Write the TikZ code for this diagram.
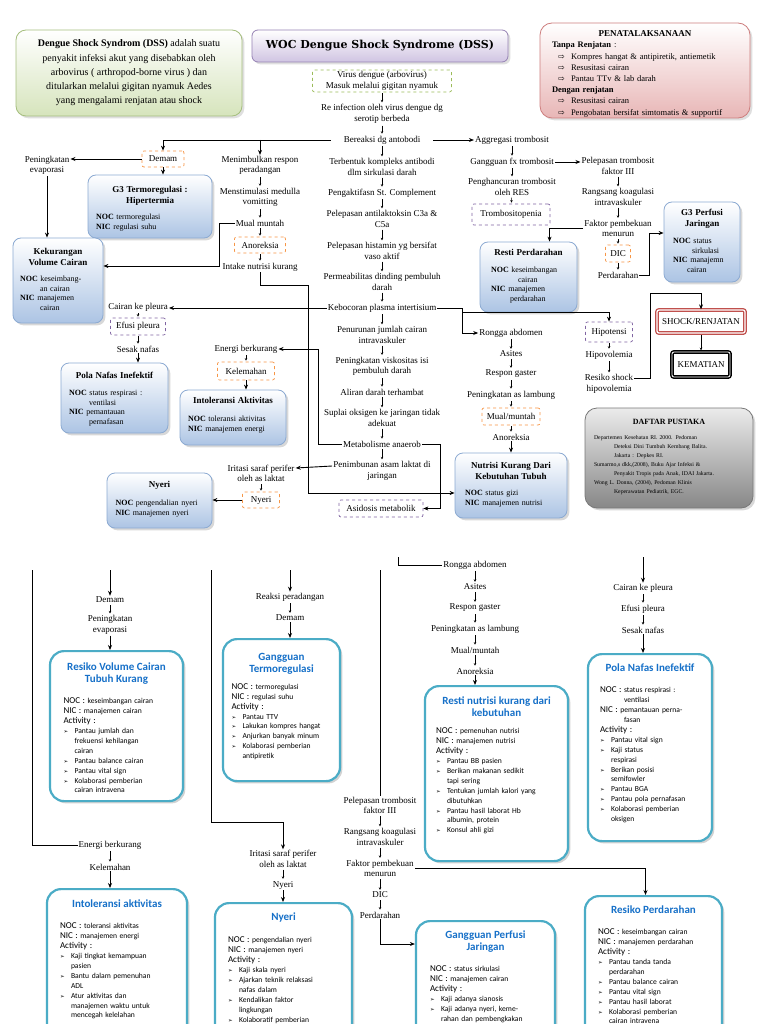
\documentclass[tikz,border=0pt]{standalone}
\usepackage{fontspec}
\setmainfont{Liberation Serif}
\newfontfamily\sansf{Carlito}
\newfontfamily\symf{DejaVu Sans}
\newfontfamily\titf{DejaVu Serif}
\usepackage{xcolor}
\usepackage{tikz}
\usetikzlibrary{arrows.meta, positioning, calc, shapes, shadows}
\setlength{\parindent}{0pt}

\definecolor{defline}{RGB}{165,190,125}
\definecolor{deffill}{RGB}{214,228,188}
\definecolor{titline}{RGB}{150,130,180}
\definecolor{titfill}{RGB}{208,196,226}
\definecolor{ptlline}{RGB}{205,125,125}
\definecolor{ptlfill}{RGB}{232,182,182}
\definecolor{dxline}{RGB}{140,170,210}
\definecolor{dxfill}{RGB}{172,196,228}
\definecolor{bxline}{RGB}{75,172,198}
\definecolor{ttlblue}{RGB}{22,112,200}
\definecolor{dorange}{RGB}{247,150,70}
\definecolor{dpurple}{RGB}{128,100,162}
\definecolor{dolive}{RGB}{155,187,89}
\definecolor{shkred}{RGB}{192,80,77}
\definecolor{dafline}{RGB}{120,120,120}
\definecolor{daftop}{RGB}{235,235,235}
\definecolor{dafbot}{RGB}{135,135,135}

\newcommand{\penbul}{\hspace*{6pt}\makebox[13pt][l]{\symf\fontsize{8}{11.2}\selectfont ⇨}}
\newcommand{\arrbul}{\makebox[11pt][l]{\symf\fontsize{5.5}{9.9}\selectfont ➢}}
\newcommand{\nocl}[1]{{\fontsize{9}{9.9}\selectfont #1}}
\newcommand{\dxttl}{\centering\fontsize{9}{11}\selectfont\bfseries}
\newcommand{\bxttl}{\centering\fontsize{11}{12}\selectfont\bfseries\color{ttlblue}}

\begin{document}
\begin{tikzpicture}[
    x=1pt, y=-1pt,
    >=Stealth,
    font=\fontsize{9}{10.5}\selectfont,
    txt/.style={align=center, inner sep=1pt},
    dbox/.style={draw=#1, dashed, line width=0.7pt, rounded corners=2pt, align=center, inner sep=1pt},
    defbox/.style={draw=defline, line width=0.8pt, rounded corners=10pt, top color=white, bottom color=deffill, drop shadow={opacity=0.25}},
    titbox/.style={draw=titline, line width=0.8pt, rounded corners=6pt, top color=white, bottom color=titfill, drop shadow={opacity=0.25}},
    ptlbox/.style={draw=ptlline, line width=0.8pt, rounded corners=12pt, top color=white, bottom color=ptlfill, drop shadow={opacity=0.25}},
    dafbox/.style={draw=dafline, line width=0.8pt, rounded corners=12pt, top color=daftop, bottom color=dafbot, drop shadow={opacity=0.3}},
    dx/.style={draw=dxline, line width=0.8pt, rounded corners=8pt, top color=white, bottom color=dxfill, drop shadow={opacity=0.3}},
    dxtext/.style={anchor=north, inner sep=0pt, font=\fontsize{8}{9.5}\selectfont},
    bx/.style={draw=bxline, line width=2.2pt, rounded corners=14pt, fill=white, drop shadow={opacity=0.35}},
    bxtext/.style={anchor=north, inner sep=0pt, font=\sansf\fontsize{7.6}{9.9}\selectfont},
    shkbox/.style={draw=shkred, line width=1.3pt, double=white, double distance=1.2pt, rounded corners=2pt},
    kembox/.style={draw=black, line width=1.5pt, double=white, double distance=0.8pt, rounded corners=2pt},
    ln/.style={line width=0.9pt},
    arr/.style={line width=0.9pt, -{Stealth[length=5pt, width=4pt]}},
    chn/.style={line width=0.5pt, -{Stealth[length=2.5pt, width=2.5pt]}, shorten <=1pt, shorten >=1pt}
]
    \fill[white] (0,0) rectangle (768,1024);
    \useasboundingbox (0,0) rectangle (768,1024);

    % --- Header ---
    \node[defbox, minimum width=226pt, minimum height=86pt, align=center, font=\fontsize{10}{14.2}\selectfont] (def) at (129,73) {
        \textbf{Dengue Shock Syndrom (DSS)} adalah suatu\\
        penyakit infeksi akut yang disebabkan oleh\\
        arbovirus ( arthropod-borne virus ) dan\\
        ditularkan melalui gigitan nyamuk Aedes\\
        yang mengalami renjatan atau shock};
    \node[titbox, minimum width=256pt, minimum height=32pt, font=\titf\bfseries\fontsize{11}{13}\selectfont] (ttl) at (380,46) {WOC Dengue Shock Syndrome (DSS)};
    \node[ptlbox, minimum width=210pt, minimum height=95pt] (ptl) at (645,70.5) {};
    \node[anchor=north, inner sep=0pt, text width=186pt, font=\fontsize{8.5}{11.2}\selectfont] (ptlT) at ([yshift=-8pt]ptl.north) {
        {\centering\fontsize{9}{11.2}\selectfont\bfseries PENATALAKSANAAN\par}
        \textbf{Tanpa Renjatan} :\\
        \penbul Kompres hangat \& antipiretik, antiemetik\\
        \penbul Resusitasi cairan\\
        \penbul Pantau TTv \& lab darah\\
        \textbf{Dengan renjatan}\\
        \penbul Resusitasi cairan\\
        \penbul Pengobatan bersifat simtomatis \& supportif};

    % --- Main chain ---
    \node[dbox=dolive, minimum width=139pt, minimum height=22pt] (vir) at (382,81) {Virus dengue (arbovirus)\\Masuk melalui gigitan nyamuk};
    \node[txt] (rei) at (382,114) {Re infection oleh virus dengue dg\\serotip berbeda};
    \node[txt] (ber) at (382,140) {Bereaksi dg antobodi};
    \node[txt] (ter) at (382,167) {Terbentuk kompleks antibodi\\dlm sirkulasi darah};
    \node[txt] (pac) at (382,193) {Pengaktifasn St. Complement};
    \node[txt] (c3a) at (382,219) {Pelepasan antilaktoksin C3a \&\\C5a};
    \node[txt] (his) at (382,251) {Pelepasan histamin yg bersifat\\vaso aktif};
    \node[txt] (pdp) at (382,282) {Permeabilitas dinding pembuluh\\darah};
    \node[txt] (keb) at (382,308) {Kebocoran plasma intertisium};
    \node[txt] (pjc) at (382,335) {Penurunan jumlah cairan\\intravaskuler};
    \node[txt] (pvi) at (382,366.5) {Peningkatan viskositas isi\\pembuluh darah};
    \node[txt] (adt) at (382,392) {Aliran darah terhambat};
    \node[txt] (sok) at (382,418) {Suplai oksigen ke jaringan tidak\\adekuat};
    \node[txt] (man) at (382,444) {Metabolisme anaerob};
    \node[txt] (pal) at (382,471) {Penimbunan asam laktat di\\jaringan};
    \node[dbox=dpurple, minimum width=84pt, minimum height=17pt] (asi) at (381,508.5) {Asidosis metabolik};

    % --- Respon peradangan ---
    \node[txt] (mrp) at (260,165.5) {Menimbulkan respon\\peradangan};
    \node[txt] (msm) at (260,197.5) {Menstimulasi medulla\\vomitting};
    \node[txt] (mmu) at (260,223) {Mual muntah};
    \node[dbox=dorange, minimum width=51pt, minimum height=16pt] (ano) at (260,245) {Anoreksia};
    \node[txt] (inr) at (260,267) {Intake nutrisi kurang};

    % --- Left side ---
    \node[dbox=dorange, minimum width=42pt, minimum height=16pt] (dem) at (163,159) {Demam};
    \node[txt] (pev) at (47,165.5) {Peningkatan\\evaporasi};
    \node[txt] (cpl) at (138,307) {Cairan ke pleura};
    \node[dbox=dpurple, minimum width=55pt, minimum height=17pt] (efu) at (138,326.5) {Efusi pleura};
    \node[txt] (ses) at (138,349) {Sesak nafas};
    \node[txt] (enb) at (246,349) {Energi berkurang};
    \node[dbox=dorange, minimum width=57pt, minimum height=18pt] (kel) at (246,371) {Kelemahan};
    \node[txt] (isp) at (261,473.5) {Iritasi saraf perifer\\oleh as laktat};
    \node[dbox=dorange, minimum width=37pt, minimum height=16pt] (nye) at (261,500) {Nyeri};

    % --- Right side ---
    \node[txt] (agt) at (512,140) {Aggregasi trombosit};
    \node[txt] (gft) at (512,162) {Gangguan fx trombosit};
    \node[txt] (phr) at (512,187) {Penghancuran trombosit\\oleh RES};
    \node[dbox=dpurple, minimum width=78pt, minimum height=21pt] (trp) at (511,214.5) {Trombositopenia};
    \node[txt] (ptf) at (618,166) {Pelepasan trombosit\\faktor III};
    \node[txt] (rki) at (618,197) {Rangsang koagulasi\\intravaskuler};
    \node[txt] (fpm) at (618,228.5) {Faktor pembekuan\\menurun};
    \node[dbox=dorange, minimum width=25pt, minimum height=17pt] (dic) at (618,253.5) {DIC};
    \node[txt] (pdr) at (618,275) {Perdarahan};
    \node[dbox=dpurple, minimum width=47pt, minimum height=20pt] (hip) at (609,332) {Hipotensi};
    \node[txt] (hvl) at (609,355) {Hipovolemia};
    \node[txt] (rsh) at (609,384) {Resiko shock\\hipovolemia};
    \node[txt] (rab) at (511,333) {Rongga abdomen};
    \node[txt] (ast) at (511,354) {Asites};
    \node[txt] (rga) at (511,374) {Respon gaster};
    \node[txt] (pas) at (511,395) {Peningkatan as lambung};
    \node[dbox=dorange, minimum width=58pt, minimum height=17pt] (mmt) at (511,416.5) {Mual/muntah};
    \node[txt] (anr) at (511,437) {Anoreksia};
    \node[shkbox, minimum width=88pt, minimum height=23pt] (shk) at (701,321.5) {SHOCK/RENJATAN};
    \node[kembox, minimum width=58pt, minimum height=25pt] (kem) at (701,364.5) {KEMATIAN};

    % --- Diagnosa (atas) ---
    \node[dx, minimum width=124pt, minimum height=63pt] (g3t) at (150,206.5) {};
    \node[dxtext, text width=108pt] (g3tT) at ([yshift=-11pt]g3t.north) {{\dxttl G3 Termoregulasi :\\Hipertermia\par}\vspace{7pt}
        \textbf{NOC} termoregulasi\\\textbf{NIC} regulasi suhu};
    \node[dx, minimum width=90pt, minimum height=85pt] (kvc) at (58,280.5) {};
    \node[dxtext, text width=76pt] (kvcT) at ([yshift=-10pt]kvc.north) {{\dxttl Kekurangan\\Volume Cairan\par}\vspace{7pt}
        \textbf{NOC} keseimbang-\\\hspace*{20pt}an cairan\\\textbf{NIC} manajemen\\\hspace*{20pt}cairan};
    \node[dx, minimum width=107pt, minimum height=70pt] (pni) at (114.5,398) {};
    \node[dxtext, text width=91pt] (pniT) at ([yshift=-9pt]pni.north) {{\dxttl Pola Nafas Inefektif\par}\vspace{8pt}
        \textbf{NOC} status respirasi :\\\hspace*{20pt}ventilasi\\\textbf{NIC} pemantauan\\\hspace*{20pt}pernafasan};
    \node[dx, minimum width=106pt, minimum height=55pt] (ia) at (233,417.5) {};
    \node[dxtext, text width=90pt] (iaT) at ([yshift=-7pt]ia.north) {{\dxttl Intoleransi Aktivitas\par}\vspace{9pt}
        \textbf{NOC} toleransi aktivitas\\\textbf{NIC} manajemen energi};
    \node[dx, minimum width=105pt, minimum height=55pt] (ny) at (159.5,500.5) {};
    \node[dxtext, text width=88pt] (nyT) at ([yshift=-8pt]ny.north) {{\dxttl Nyeri\par}\vspace{9pt}
        \textbf{NOC} pengendalian nyeri\\\textbf{NIC} manajemen nyeri};
    \node[dx, minimum width=97pt, minimum height=70pt] (rp) at (528.5,277) {};
    \node[dxtext, text width=75pt] (rpT) at ([yshift=-7pt]rp.north) {{\dxttl Resti Perdarahan\par}\vspace{8pt}
        \textbf{NOC} keseimbangan\\\hspace*{27pt}cairan\\\textbf{NIC} manajemen\\\hspace*{19pt}perdarahan};
    \node[dx, minimum width=76pt, minimum height=80pt] (g3p) at (702,242) {};
    \node[dxtext, text width=58pt] (g3pT) at ([yshift=-7pt]g3p.north) {{\dxttl G3 Perfusi\\Jaringan\par}\vspace{8pt}
        \textbf{NOC} status\\\hspace*{19pt}sirkulasi\\\textbf{NIC} manajemn\\\hspace*{14pt}cairan};
    \node[dx, minimum width=112pt, minimum height=65pt] (nk) at (511,485.5) {};
    \node[dxtext, text width=92pt] (nkT) at ([yshift=-9pt]nk.north) {{\dxttl Nutrisi Kurang Dari\\Kebutuhan Tubuh\par}\vspace{7pt}
        \textbf{NOC} status gizi\\\textbf{NIC} manajemen nutrisi};

    % --- Daftar pustaka ---
    \node[dafbox, minimum width=168pt, minimum height=100pt] (daf) at (669,458) {};
    \node[anchor=north, inner sep=0pt, text width=150pt, font=\fontsize{5.8}{9}\selectfont] (dafT) at ([yshift=-11pt]daf.north) {
        {\centering\fontsize{8}{10}\selectfont\bfseries DAFTAR PUSTAKA\par}\vspace{6pt}
        \hangindent=20pt\hangafter=1 Departemen Kesehatan RI. 2000. Pedoman\linebreak Deteksi Dini Tumbuh Kembang Balita.\linebreak Jakarta : Depkes RI.\par
        \hangindent=20pt\hangafter=1 Sumarmo,s dkk,(2008), Buku Ajar Infeksi \&\linebreak Penyakit Tropis pada Anak, IDAI Jakarta.\par
        \hangindent=20pt\hangafter=1 Wong L. Donna, (2004), Pedoman Klinis\linebreak Keperawatan Pediatrik, EGC.\par};

    % --- Connector corners (top) ---
    \coordinate (a1) at (308,285);
    \coordinate (a2) at (318,444);
    \coordinate (a3) at (440,444);
    \coordinate (a4) at (650,293);
    \coordinate (kr) at (462,308);
    \coordinate (kh) at (462,312);

    % --- Chain arrows (top) ---
    \draw[chn] (vir) -- (rei);
    \draw[chn] (rei) -- (ber);
    \draw[chn] (ber) -- (ter);
    \draw[chn] (ter) -- (pac);
    \draw[chn] (pac) -- (c3a);
    \draw[chn] (c3a) -- (his);
    \draw[chn] (his) -- (pdp);
    \draw[chn] (pdp) -- (keb);
    \draw[chn] (keb) -- (pjc);
    \draw[chn] (pjc) -- (pvi);
    \draw[chn] (pvi) -- (adt);
    \draw[chn] (adt) -- (sok);
    \draw[chn] (sok) -- (man);
    \draw[chn] (man) -- (pal);
    \draw[chn] (mrp) -- (msm);
    \draw[chn] (msm) -- (mmu);
    \draw[chn] (mmu) -- (ano);
    \draw[chn] (ano) -- (inr);
    \draw[chn] (cpl) -- (efu);
    \draw[chn] (efu) -- (ses);
    \draw[chn] (enb) -- (kel);
    \draw[chn] (isp) -- (nye);
    \draw[chn] (agt) -- (gft);
    \draw[chn] (gft) -- (phr);
    \draw[chn] (phr) -- (trp);
    \draw[chn] (ptf) -- (rki);
    \draw[chn] (rki) -- (fpm);
    \draw[chn] (fpm) -- (dic);
    \draw[chn] (dic) -- (pdr);
    \draw[chn] (hip) -- (hvl);
    \draw[chn] (hvl) -- (rsh);
    \draw[chn] (rab) -- (ast);
    \draw[chn] (ast) -- (rga);
    \draw[chn] (rga) -- (pas);
    \draw[chn] (pas) -- (mmt);
    \draw[chn] (mmt) -- (anr);
    \draw[chn] (shk) -- (kem);

    % --- Connectors (top) ---
    \draw[arr] ([xshift=-12pt]ber.west) -| (dem.north);
    \draw[arr] (mrp.north |- ber.west) -- (mrp.north);
    \draw[arr] ([xshift=12pt]ber.east) -- (agt.west);
    \draw[arr] (dem.west) -- (dem.west -| pev.east);
    \draw[arr] (dem.south) -- (dem.south |- g3t.north);
    \draw[arr] (pev.south) -- (pev.south |- kvc.north);
    \draw[arr] (mmu.west) -- ++(-15pt,0) |- ([yshift=14.5pt]kvc.east);
    \draw[arr] (inr.south) |- (a1) |- ([yshift=-7.5pt]nk.west);
    \draw[arr] (keb.west) -- (keb.west -| cpl.east);
    \draw[arr] (ses.south) -- (ses.south |- pni.north);
    \draw[arr] (man.west) -- (a2) |- (enb.east);
    \draw[arr] (kel.south) -- (kel.south |- ia.north);
    \draw[arr] (man.east) -- (a3) |- (asi.east);
    \draw[arr] ([yshift=5pt]pal.west) -- ([yshift=5.5pt]isp.east);
    \draw[arr] (nye.west) -- (nye.west -| ny.east);
    \draw[arr] (keb.east) -- (kr) |- (rab.west);
    \draw[arr] (kh) -| (hip.north);
    \draw[arr] (gft.east) -- (gft.east -| ptf.west);
    \draw[arr] (fpm.west) -| ([xshift=21pt]rp.north);
    \draw[arr] (pdr.east) -- ++(10pt,0) |- ([yshift=9pt]g3p.west);
    \draw[arr] ([yshift=6pt]rsh.east) -| (a4) -| (shk.north);
    \draw[arr] (anr.south) -- (anr.south |- nk.north);

    % --- Bottom half: chains ---
    \node[txt] (dem2) at (110,600) {Demam};
    \node[txt] (pev2) at (110,625) {Peningkatan\\evaporasi};
    \node[txt] (rpd) at (290,597) {Reaksi peradangan};
    \node[txt] (dem3) at (290,618) {Demam};
    \node[txt] (rab2) at (475,565) {Rongga abdomen};
    \node[txt] (ast2) at (475,587) {Asites};
    \node[txt] (rga2) at (475,608) {Respon gaster};
    \node[txt] (pas2) at (475,629) {Peningkatan as lambung};
    \node[txt] (mmt2) at (475,650) {Mual/muntah};
    \node[txt] (anr2) at (475,671) {Anoreksia};
    \node[txt] (cpl2) at (643,588) {Cairan ke pleura};
    \node[txt] (efu2) at (643,609) {Efusi pleura};
    \node[txt] (ses2) at (643,630) {Sesak nafas};
    \node[txt] (ptf2) at (380,805.5) {Pelepasan trombosit\\faktor III};
    \node[txt] (rki2) at (380,837) {Rangsang koagulasi\\intravaskuler};
    \node[txt] (fpm2) at (380,868.5) {Faktor pembekuan\\menurun};
    \node[txt] (dic2) at (380,895) {DIC};
    \node[txt] (pdr2) at (380,915) {Perdarahan};
    \node[txt] (enb2) at (110,845) {Energi berkurang};
    \node[txt] (kel2) at (110,867) {Kelemahan};
    \node[txt] (isp2) at (283,859) {Iritasi saraf perifer\\oleh as laktat};
    \node[txt] (ny2) at (283,885) {Nyeri};

    % --- Bottom half: diagnosa ---
    \node[bx, anchor=north, minimum width=133pt, minimum height=150pt] (rvc) at (116.5,650) {};
    \node[bxtext, text width=106pt] (rvcT) at ([yshift=-13pt]rvc.north) {{\bxttl Resiko Volume Cairan\\Tubuh Kurang\par}\vspace{11pt}
        \nocl{NOC :} keseimbangan cairan\\
        \nocl{NIC :} manajemen cairan\\
        \nocl{Activity :}\\
        \arrbul Pantau jumlah dan\\\hspace*{11pt}frekuensi kehilangan\\\hspace*{11pt}cairan\\
        \arrbul Pantau balance cairan\\
        \arrbul Pantau vital sign\\
        \arrbul Kolaborasi pemberian\\\hspace*{11pt}cairan intravena};
    \node[bx, anchor=north, minimum width=117pt, minimum height=142pt] (gt) at (281.5,638) {};
    \node[bxtext, text width=100pt] (gtT) at ([yshift=-15pt]gt.north) {{\bxttl Gangguan\\Termoregulasi\par}\vspace{7pt}
        \nocl{NOC :} termoregulasi\\
        \nocl{NIC :} regulasi suhu\\
        \nocl{Activity :}\\
        \arrbul Pantau TTV\\
        \arrbul Lakukan kompres hangat\\
        \arrbul Anjurkan banyak minum\\
        \arrbul Kolaborasi pemberian\\\hspace*{11pt}antipiretik};
    \node[bx, anchor=north, minimum width=143pt, minimum height=175pt] (rnk) at (496.5,685) {};
    \node[bxtext, text width=121pt] (rnkT) at ([yshift=-12pt]rnk.north) {{\bxttl Resti nutrisi kurang dari\\kebutuhan\par}\vspace{7pt}
        \nocl{NOC :} pemenuhan nutrisi\\
        \nocl{NIC :} manajemen nutrisi\\
        \nocl{Activity :}\\
        \arrbul Pantau BB pasien\\
        \arrbul Berikan makanan sedikit\\\hspace*{11pt}tapi sering\\
        \arrbul Tentukan jumlah kalori yang\\\hspace*{11pt}dibutuhkan\\
        \arrbul Pantau hasil laborat Hb\\\hspace*{11pt}albumin, protein\\
        \arrbul Konsul ahli gizi};
    \node[bx, anchor=north, minimum width=124pt, minimum height=187pt] (pnb) at (650,653) {};
    \node[bxtext, text width=100pt] (pnbT) at ([yshift=-11pt]pnb.north) {{\bxttl Pola Nafas Inefektif\par}\vspace{11pt}
        \nocl{NOC :} status respirasi :\\\hspace*{24pt}ventilasi\\
        \nocl{NIC :} pemantauan perna-\\\hspace*{24pt}fasan\\
        \nocl{Activity :}\\
        \arrbul Pantau vital sign\\
        \arrbul Kaji status\\\hspace*{11pt}respirasi\\
        \arrbul Berikan posisi\\\hspace*{11pt}semifowler\\
        \arrbul Pantau BGA\\
        \arrbul Pantau pola pernafasan\\
        \arrbul Kolaborasi pemberian\\\hspace*{11pt}oksigen};
    \node[bx, anchor=north, minimum width=140pt, minimum height=160pt] (iab) at (117,888) {};
    \node[bxtext, text width=114pt] (iabT) at ([yshift=-12pt]iab.north) {{\bxttl Intoleransi aktivitas\par}\vspace{11pt}
        \nocl{NOC :} toleransi aktivitas\\
        \nocl{NIC :} manajemen energi\\
        \nocl{Activity :}\\
        \arrbul Kaji tingkat kemampuan\\\hspace*{11pt}pasien\\
        \arrbul Bantu dalam pemenuhan\\\hspace*{11pt}ADL\\
        \arrbul Atur aktivitas dan\\\hspace*{11pt}manajemen waktu untuk\\\hspace*{11pt}mencegah kelelahan};
    \node[bx, anchor=north, minimum width=137pt, minimum height=150pt] (nyb) at (283.5,902) {};
    \node[bxtext, text width=111pt] (nybT) at ([yshift=-11pt]nyb.north) {{\bxttl Nyeri\par}\vspace{12pt}
        \nocl{NOC :} pengendalian nyeri\\
        \nocl{NIC :} manajemen nyeri\\
        \nocl{Activity :}\\
        \arrbul Kaji skala nyeri\\
        \arrbul Ajarkan teknik relaksasi\\\hspace*{11pt}nafas dalam\\
        \arrbul Kendalikan faktor\\\hspace*{11pt}lingkungan\\
        \arrbul Kolaboratif pemberian};
    \node[bx, anchor=north, minimum width=139pt, minimum height=130pt] (gpj) at (485.5,920) {};
    \node[bxtext, text width=111pt] (gpjT) at ([yshift=-11pt]gpj.north) {{\bxttl Gangguan Perfusi\\Jaringan\par}\vspace{11pt}
        \nocl{NOC :} status sirkulasi\\
        \nocl{NIC :} manajemen cairan\\
        \nocl{Activity :}\\
        \arrbul Kaji adanya sianosis\\
        \arrbul Kaji adanya nyeri, keme-\\\hspace*{11pt}rahan dan pembengkakan};
    \node[bx, anchor=north, minimum width=137pt, minimum height=150pt] (rpb) at (653.5,895) {};
    \node[bxtext, text width=111pt] (rpbT) at ([yshift=-11pt]rpb.north) {{\bxttl Resiko Perdarahan\par}\vspace{11pt}
        \nocl{NOC :} keseimbangan cairan\\
        \nocl{NIC :} manajemen perdarahan\\
        \nocl{Activity :}\\
        \arrbul Pantau tanda tanda\\\hspace*{11pt}perdarahan\\
        \arrbul Pantau balance cairan\\
        \arrbul Pantau vital sign\\
        \arrbul Pantau hasil laborat\\
        \arrbul Kolaborasi pemberian\\\hspace*{11pt}cairan intravena};

    % --- Bottom half: connectors ---
    \coordinate (c1) at (32,570);
    \coordinate (c2) at (110,570);
    \coordinate (c3) at (211,570);
    \coordinate (c3k) at (211,822);
    \coordinate (c4) at (290,570);
    \coordinate (c5) at (380,570);
    \coordinate (c6) at (398,557);
    \coordinate (c7) at (643,557);

    \draw[chn] (dem2) -- (pev2);
    \draw[chn] (rpd) -- (dem3);
    \draw[chn] (rab2) -- (ast2);
    \draw[chn] (ast2) -- (rga2);
    \draw[chn] (rga2) -- (pas2);
    \draw[chn] (pas2) -- (mmt2);
    \draw[chn] (mmt2) -- (anr2);
    \draw[chn] (cpl2) -- (efu2);
    \draw[chn] (efu2) -- (ses2);
    \draw[chn] (ptf2) -- (rki2);
    \draw[chn] (rki2) -- (fpm2);
    \draw[chn] (fpm2) -- (dic2);
    \draw[chn] (dic2) -- (pdr2);
    \draw[chn] (enb2) -- (kel2);
    \draw[chn] (isp2) -- (ny2);

    \draw[ln] (c1) |- (enb2.west);
    \draw[arr] (c2) -- (dem2.north);
    \draw[arr] (c3) -- (c3k) -| (isp2.north);
    \draw[arr] (c4) -- (rpd.north);
    \draw[ln] (c5) -- (ptf2.north);
    \draw[ln] (c6) |- (rab2.west);
    \draw[arr] (c7) -- (cpl2.north);
    \draw[arr] (pev2.south) -- (pev2.south |- rvc.north);
    \draw[arr] (dem3.south) -- (dem3.south |- gt.north);
    \draw[arr] (anr2.south) -- (anr2.south |- rnk.north);
    \draw[arr] (ses2.south) -- (ses2.south |- pnb.north);
    \draw[arr] (kel2.south) -- (kel2.south |- iab.north);
    \draw[arr] (ny2.south) -- (ny2.south |- nyb.north);
    \draw[arr] (pdr2.south) |- ([yshift=-24pt]gpj.north west);
    \draw[arr] (fpm2.east) -| ([xshift=-8pt]rpb.north);

\end{tikzpicture}
\end{document}
